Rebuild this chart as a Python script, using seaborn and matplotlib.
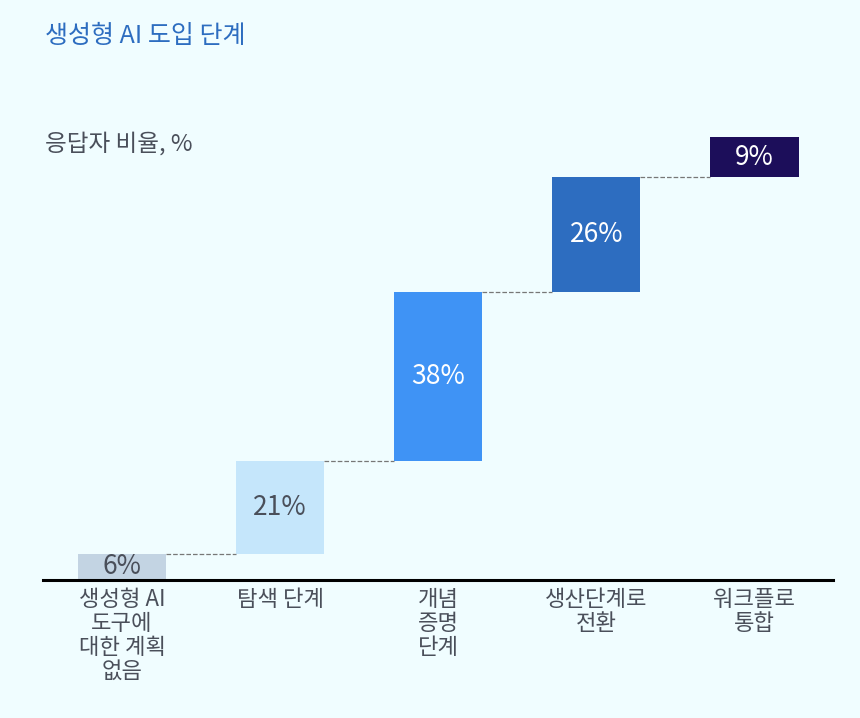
import matplotlib
matplotlib.use("Agg")
import matplotlib.pyplot as plt
import seaborn as sns
import numpy as np
import pandas as pd

plt.rcParams["font.family"] = "Noto Sans CJK KR"

categories = ["생성형 AI\n도구에\n대한 계획\n없음", "탐색 단계", "개념\n증명\n단계", "생산단계로\n전환", "워크플로\n통합"]
values = [6, 21, 38, 26, 9]
colors = ["#C3D4E3", "#C5E6FB", "#3F93F5", "#2D6DC0", "#1C0E5A"]
label_colors = ["#4A4F5A", "#4A4F5A", "white", "white", "white"]

bg = "#F0FDFF"
bottoms = np.concatenate([[0], np.cumsum(values)[:-1]])
df = pd.DataFrame({"cat": categories, "val": values})

fig = plt.figure(figsize=(8.6, 7.18), dpi=100, facecolor=bg)
ax = fig.add_axes([0.05, 0.192, 0.919, 0.617])
ax.set_facecolor(bg)

sns.barplot(data=df, x="cat", y="val", hue="cat", palette=colors, legend=False,
            width=0.56, ax=ax, saturation=1)

# shift bars up to make a waterfall
for p in ax.patches:
    i = int(round(p.get_x() + p.get_width() / 2))
    p.set_y(bottoms[i])

w = 0.56
for i, (v, b) in enumerate(zip(values, bottoms)):
    ax.text(i, b + v / 2, f"{v}%", ha="center", va="center", fontsize=19,
            color=label_colors[i])
    if i < len(values) - 1:
        top = b + v
        ax.plot([i + w / 2, i + 1 - w / 2], [top, top], ls="--", lw=0.9, color="#777777")

ax.set_xlim(-0.5, 4.5)
ax.set_ylim(0, 100)
ax.set_yticks([])
ax.set_xlabel("")
ax.set_ylabel("")
for s in ["top", "right", "left"]:
    ax.spines[s].set_visible(False)
ax.spines["bottom"].set_linewidth(2.2)
ax.spines["bottom"].set_color("black")
ax.tick_params(axis="x", length=0, pad=6, labelsize=16, labelcolor="#4A4F5A")
for t in ax.get_xticklabels():
    t.set_verticalalignment("top")
    t.set_linespacing(1.05)

fig.text(0.052, 0.95, "생성형 AI 도입 단계", fontsize=18, color="#2D6DC0", va="center")
fig.text(0.052, 0.80, "응답자 비율, %", fontsize=17, color="#4A4F5A", va="center")

fig.savefig("out.png", dpi=100, facecolor=bg)
